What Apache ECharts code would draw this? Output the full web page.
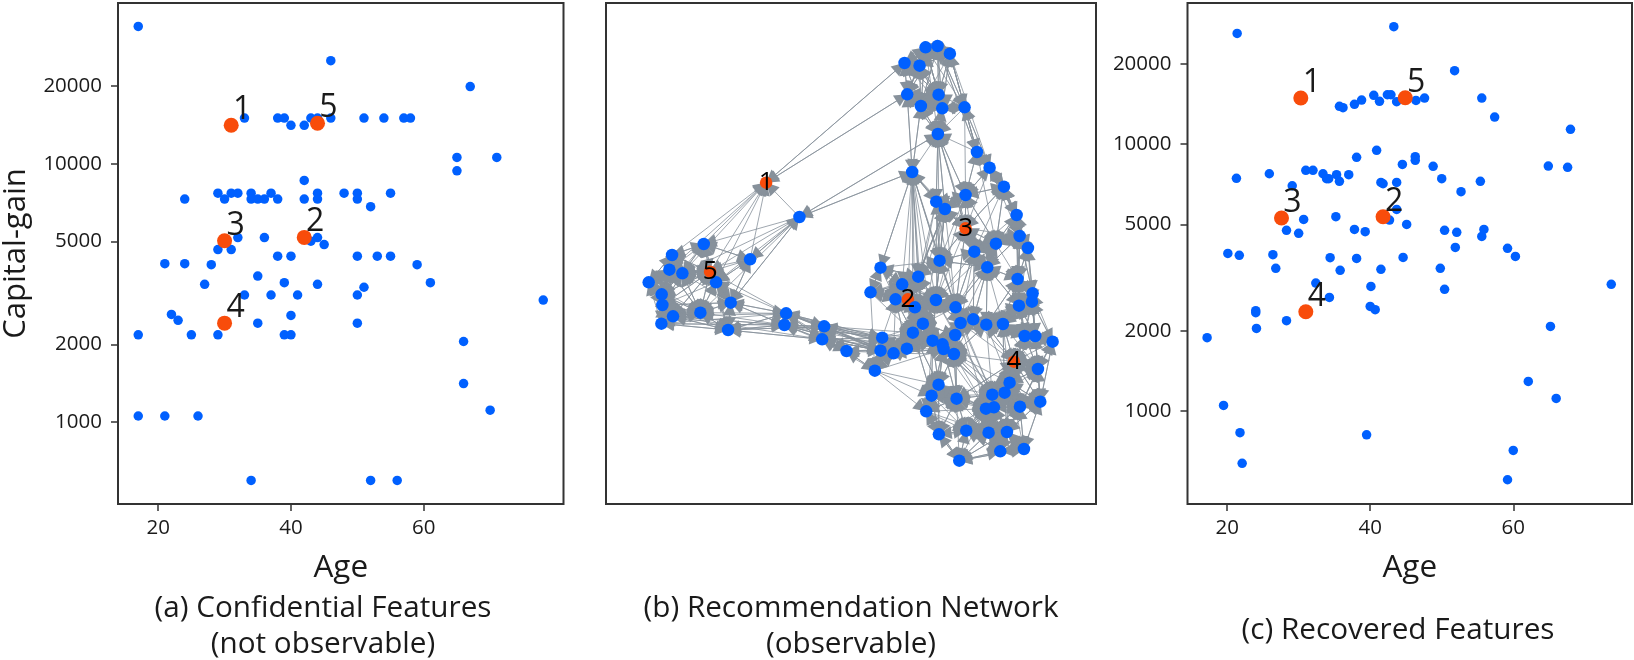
<!DOCTYPE html>
<html>
<head>
<meta charset="utf-8">
<style>html,body{margin:0;padding:0;background:#fff}#c{width:1634px;height:660px}</style>
<script src="https://cdn.jsdelivr.net/npm/echarts@6/dist/echarts.min.js"></script>
</head>
<body>
<div id="c"></div>
<script>
const xTicks = [20, 40, 60];
const yTicks = [1000, 2000, 5000, 10000, 20000];
const markerLabels = ['1', '2', '3', '4', '5'];

// (a) Confidential features: [age, capital gain]
const confidentialBlue = [
  [17,34000],[46,25060],[67,19900],
  [33,15024],[38,15024],[39,15024],[43,15024],[44,15024],[46,15024],[51,15024],[54,15024],[57,15024],[58,15024],
  [40,14084],[42,14084],[65,10580],[71,10580],[65,9386],[42,8614],
  [29,7688],[31,7688],[32,7688],[34,7688],[37,7688],[44,7688],[48,7688],[50,7688],[55,7688],
  [24,7298],[30,7298],[34,7298],[35,7298],[36,7298],[38,7298],[42,7298],[44,7298],[50,7298],[52,6815],
  [32,5178],[36,5178],[44,5178],[43,5013],[45,4865],[29,4650],[31,4650],
  [38,4386],[40,4386],[50,4386],[53,4386],[55,4386],
  [21,4101],[24,4101],[28,4064],[59,4064],[35,3674],[27,3411],[39,3464],[44,3411],[61,3464],[51,3325],
  [33,3103],[37,3103],[41,3103],[50,3103],[78,2966],[22,2610],[23,2475],[40,2587],[35,2414],[50,2414],
  [17,2176],[25,2176],[29,2176],[39,2176],[40,2176],[66,2050],[66,1409],[70,1111],
  [17,1055],[21,1055],[26,1055],[34,594],[52,594],[56,594]
];
const confidentialOrange = [[31,14084],[42,5186],[30,5033],[30,2414],[44,14344]];

// (c) Recovered features: [age, capital gain]
const recoveredBlue = [
  [21.4,25970],[43.3,27510],[51.8,18820],[55.6,14870],[57.4,12620],[68,11350],
  [35.7,13840],[36.2,13680],[37.8,14080],[38.8,14610],[40.5,15220],[41.3,14450],[42.4,15300],[42.9,15300],[43.7,14410],[46.4,14570],[47.6,14870],
  [40.9,9470],[38.1,8915],[46.3,8965],[46.3,8690],[44.5,8390],[48.8,8250],[64.9,8270],[67.6,8180],
  [31,7970],[32,7970],[33.4,7740],[35.3,7675],[37,7675],[33.9,7415],[34.2,7415],[35.7,7250],[25.9,7740],[21.3,7440],[50,7415],[55.4,7250],
  [41.5,7185],[41.8,7100],[43.7,7185],[29.1,6980],[52.7,6630],
  [30.7,5220],[35.2,5345],[43.7,5690],[42.7,5190],[45.1,5000],[28.3,4750],[30,4630],[37.8,4790],[39.3,4695],[50.4,4750],[52.1,4670],[55.9,4790],[55.6,4510],
  [51.9,4100],[59.2,4067],[60.3,3795],[20.1,3895],[21.7,3830],[26.4,3850],[26.8,3423],[34.4,3752],[38.1,3730],[44.6,3763],[35.8,3365],[41.5,3394],[49.8,3423],
  [50.4,2856],[32.4,3015],[34.3,2665],[40.1,2930],[73.7,2982],[40,2466],[40.7,2396],[24,2376],[24,2336],[28.3,2180],[24.1,2040],[65.2,2075],
  [17.2,1882],[62.1,1291],[66,1115],[19.5,1050],[21.8,830],[39.5,815],[22.1,637],[60,712],[59.2,553]
];
const recoveredOrange = [[30.3,14870],[41.8,5345],[27.6,5285],[31,2355],[44.9,14910]];

// (b) Recommendation network: node layout positions
const nodePositions = [
  [976,142],[1012,138],[1049,161],[913,189],[958,197],[921,283],[1015,284],[962,318],[1026,325],[1093,322],[1013,402],
  [1130,456],[1168,503],[936,516],[1211,560],[1096,585],[1008,605],[1034,627],[1249,645],[1258,708],[1187,731],[1283,744],[1122,755],[1096,685],
  [498,548],[598,651],[311,732],[216,765],[450,778],[208,809],[247,820],[146,847],[348,847],[330,815],[185,883],[187,915],[392,908],[301,938],[219,949],[184,971],[384,990],
  [558,940],[553,975],[672,979],[666,1018],[739,1053],[846,1013],[841,1052],[880,1060],[824,1112],[920,1046],
  [841,803],[811,877],[954,830],[906,853],[886,898],[923,898],[944,922],[1018,782],[1161,802],[1007,900],[1066,922],[1252,837],[1297,880],[1295,905],[1256,917],
  [968,971],[938,998],[1081,969],[1119,958],[1158,974],[1208,972],[1065,1005],[997,1022],[1027,1033],[1030,1047],[1061,1062],[1273,1008],[1305,1008],[1357,1025],[1241,1085],[1313,1107],
  [1015,1154],[1228,1148],[994,1187],[1069,1196],[1176,1184],[1213,1178],[978,1234],[1157,1226],[1181,1222],[1259,1220],[1320,1205],[1016,1303],[1098,1292],[1165,1298],[1220,1296],[1200,1354],[1271,1347],[1077,1382]
];
// orange nodes, in label order 1..5
const highlightedNodes = [24, 56, 23, 80, 33];
// outgoing links of each node
const outLinks = [
  [3,4,5,6,7,1,2,8,9,10],[0,2,4,6,8,9,3,5,7,11],[1,0,6,8,9,11,4,7,12],[0,4,5,7,24,1,6,8],[0,1,3,5,6,7,8,2],[3,4,7,13,24,0,1,6,8,10],[1,2,4,8,10,7,0,3,5],[4,5,6,8,10,13,0,1,3],[6,7,9,10,2,0,1,4,5],[2,8,10,11,12,1,6,15],[6,7,8,16,23,15,25,5,58,17,22],
  [9,12,15,14,10,2,1,18,20],[11,14,15,18,9,19,23],[10,16,17,25,51,53,60,58,56,23,73,66,5,7,54,57,67,61],[12,15,18,19,20,11,21,23,22],[10,11,16,17,23,20,14,12,58,60],[10,13,17,23,58,60,15,53,57,61],[16,15,23,58,60,53,61,13,10,56,57,66],[14,19,20,21,62,59,12,22,65],[18,20,21,22,62,63,14,59,65],[14,18,19,22,23,59,15,61,60,62],[18,19,62,63,64,14,65],[20,23,58,59,15,19,61,68,69,60],[15,16,17,20,22,58,60,61,10,14,19],
  [3,5],[24,26,28,30,33,36,32,13,10,37],[24,27,30,33,29,32,28,34],[24,26,29,30,31,34,33,35],[24,25,33,32,36,26,30],[27,30,31,34,33,24,35,37,38],[24,27,29,33,34,26,32,35,37,31],[27,29,34,35,38,30,33,37],[24,33,30,36,28,37,26,35,40],[24,30,32,36,37,26,35,29,34,38,27],[29,31,35,38,33,30,37,27,39],[31,34,38,39,37,33,29,30,36],[32,33,37,40,41,28,35,30,42,25],[33,35,36,38,40,39,30,32,34,29],[34,35,37,39,40,42,41,31,33],[35,38,37,40,42,41,34,31],[36,37,39,41,42,38,43,44,35,33],
  [36,40,42,43,46,33,32,47,50,44,37,48],[39,40,41,43,44,47,38,46,48,36,37,50],[41,42,44,46,47,50,67,48,40,45,73],[42,43,45,46,47,48,38,50,41,40,74],[44,43,47,49,48,46,42,50,41],[43,47,48,50,73,41,67,44,42,66,75,55],[44,46,48,49,45,50,74,42,43,41,73],[46,47,49,50,75,76,43,44,67,73],[45,47,48,50,82,84,44,75,88],[46,48,67,73,55,57,75,43,47,74,60,66],
  [13,52,53,54,55,58,56,60],[51,54,55,56,49,57,53,67],[51,54,56,58,60,17,55,57,66,13],[51,52,53,55,56,57,60,67],[52,54,56,57,67,50,53,66,48],[53,54,55,57,60,66,67,52,73,17],[55,56,60,66,67,61,53,73,50,54],[16,17,53,60,22,61,59,13,23,68],[58,22,20,62,61,70,69,65,71,19],[53,56,57,58,61,66,73,68,17,54,86],[57,60,68,72,66,22,69,59,58,23,85,89],[18,19,59,63,65,71,21,70,77],[21,62,64,65,78,19,77,71],[63,65,77,78,79,62,71,81],[62,63,64,71,77,70,19,78,59],
  [56,57,67,73,60,72,74,53,75],[50,55,57,66,73,48,82,74,56,75,84],[60,61,69,70,72,74,71,76,59,86],[68,70,71,61,72,59,65,76,77,80,22],[59,69,71,65,76,77,80,68,83,62,86],[62,65,70,77,80,69,83,64,78,87,81],[61,68,74,75,76,66,73,69,85,86,60],[66,67,74,75,50,84,86,57,82,88,60],[72,73,75,76,68,82,85,66,67,50],[73,74,76,48,82,85,89,67,84,72,86],[72,74,75,85,70,86,82,87,68,89,83],[64,65,71,78,80,79,81,70,83,62],[64,77,79,81,63,80,92,65],[64,78,81,92,80,77,63,91],[71,77,81,83,87,76,70,85,86,91,92,68],[78,79,80,83,92,91,77,87,64],
  [84,85,88,75,67,76,86,93,73,89,94],[80,81,87,91,86,92,96,90,77],[82,85,88,93,67,73,86,94,75,89],[82,84,86,89,94,88,76,90,95,93,80],[83,85,87,89,90,76,61,94,95,80,96],[80,83,86,90,91,96,89,92,95,71],[84,93,85,94,99,82,89,95],[85,86,90,94,95,96,87,91,97,83],[86,87,89,91,95,96,83,94,97,85],[83,87,90,92,96,98,81,80,97,95],[79,81,91,98,96,83,87,78,80],[84,88,94,99,85,82,95,89],[85,89,93,95,99,97,86,90,96],[89,90,94,96,97,99,86,91,87],[90,91,92,95,97,98,87,89,83,99],[95,96,98,99,94,89,91,90],[91,92,96,97,99,83,95],[93,94,95,97,98,88,85,89,96]
];

const BLUE = '#0060ff', ORANGE = '#f84c0b', EDGE = '#87919b', FONT = '"Open Sans","Noto Sans",sans-serif', INK = '#1a1a1a';
const grids = [
  {left: 118, top: 3, width: 445.5, height: 501},
  {left: 606, top: 3, width: 490, height: 501},
  {left: 1187.5, top: 3, width: 444.5, height: 501}
].map(g => ({...g, show: true, borderColor: '#333', borderWidth: 2, backgroundColor: '#fff'}));

const tick = {show: true, length: 7, lineStyle: {color: '#333', width: 1.5}};
function xAxis(gridIndex, min, max) {
  return {
    type: 'value', gridIndex, min, max, splitLine: {show: false}, axisLine: {show: false},
    name: 'Age', nameLocation: 'middle', nameGap: 48, nameTextStyle: {fontFamily: FONT, fontSize: 31.5, color: INK},
    axisTick: {...tick, customValues: xTicks},
    axisLabel: {customValues: xTicks, fontFamily: FONT, fontSize: 20.5, color: INK, margin: 14}
  };
}
function yAxis(gridIndex, min, max, extra) {
  return {
    type: 'log', logBase: 10, gridIndex, min, max, splitLine: {show: false}, minorTick: {show: false}, axisLine: {show: false},
    axisTick: {...tick, customValues: yTicks},
    axisLabel: {customValues: yTicks, fontFamily: FONT, fontSize: 20.5, color: INK, margin: 16, formatter: v => String(Math.round(v))},
    ...extra
  };
}
const hidden = {show: false};
function blue(i, data) {
  return {type: 'scatter', xAxisIndex: i, yAxisIndex: i, data, symbolSize: 9.5, itemStyle: {color: BLUE, opacity: 1}, z: 2};
}
function orange(i, data) {
  return {
    type: 'scatter', xAxisIndex: i, yAxisIndex: i, symbolSize: 15, itemStyle: {color: ORANGE, opacity: 1}, z: 3,
    data: data.map((v, k) => ({value: v, name: markerLabels[k]})),
    label: {show: true, position: 'inside', offset: [11,-15], formatter: p => p.name, fontFamily: FONT, fontSize: 32, color: INK}
  };
}

const nodes = nodePositions.map((p, i) => {
  const h = highlightedNodes.indexOf(i);
  return h < 0
    ? {name: 'n' + i, value: p, itemStyle: {color: BLUE}}
    : {name: markerLabels[h], value: p, itemStyle: {color: ORANGE},
       label: {show: true, position: 'inside', fontFamily: FONT, fontSize: 26, color: '#000', formatter: markerLabels[h]}};
});
const links = [];
outLinks.forEach((targets, s) => targets.forEach(t => links.push({source: nodes[s].name, target: nodes[t].name})));

const CAPTION = {fontFamily: FONT, fontSize: 29.7, fontWeight: 'normal', color: INK, lineHeight: 36};
const option = {
  backgroundColor: '#fff',
  animation: false,
  grid: grids,
  xAxis: [xAxis(0, 13.95, 81.05),
          {type: 'value', gridIndex: 1, min: 18, max: 1487, axisLine: hidden, axisTick: hidden, axisLabel: hidden, splitLine: hidden},
          xAxis(2, 14.46, 76.6)],
  yAxis: [yAxis(0, 481.5, 41900, {name: 'Capital-gain', nameLocation: 'middle', nameGap: 86, nameTextStyle: {fontFamily: FONT, fontSize: 31, color: INK}}),
          {type: 'value', gridIndex: 1, min: 9, max: 1512, inverse: true, axisLine: hidden, axisTick: hidden, axisLabel: hidden, splitLine: hidden},
          yAxis(2, 448.6, 33750)],
  title: [
    {text: '(a) Confidential Features\n(not observable)', left: 323, top: 591, textAlign: 'center', textStyle: CAPTION},
    {text: '(b) Recommendation Network\n(observable)', left: 851, top: 591, textAlign: 'center', textStyle: CAPTION},
    {text: '(c) Recovered Features', left: 1398, top: 613, textAlign: 'center', textStyle: CAPTION}
  ].map(t => ({...t, padding: 0})),
  series: [
    blue(0, confidentialBlue), orange(0, confidentialOrange),
    {
      type: 'graph', layout: 'none', coordinateSystem: 'cartesian2d', xAxisIndex: 1, yAxisIndex: 1,
      symbolSize: 12.5, roam: false, z: 2,
      data: nodes, links,
      edgeSymbol: ['none', 'triangle'], edgeSymbolSize: 13,
      lineStyle: {color: EDGE, width: 0.8, opacity: 1, curveness: 0},
      label: {show: false},
      emphasis: {disabled: true}
    },
    blue(2, recoveredBlue), orange(2, recoveredOrange)
  ]
};
echarts.init(document.getElementById('c'), null, {renderer: 'canvas'}).setOption(option);
</script>
</body>
</html>
